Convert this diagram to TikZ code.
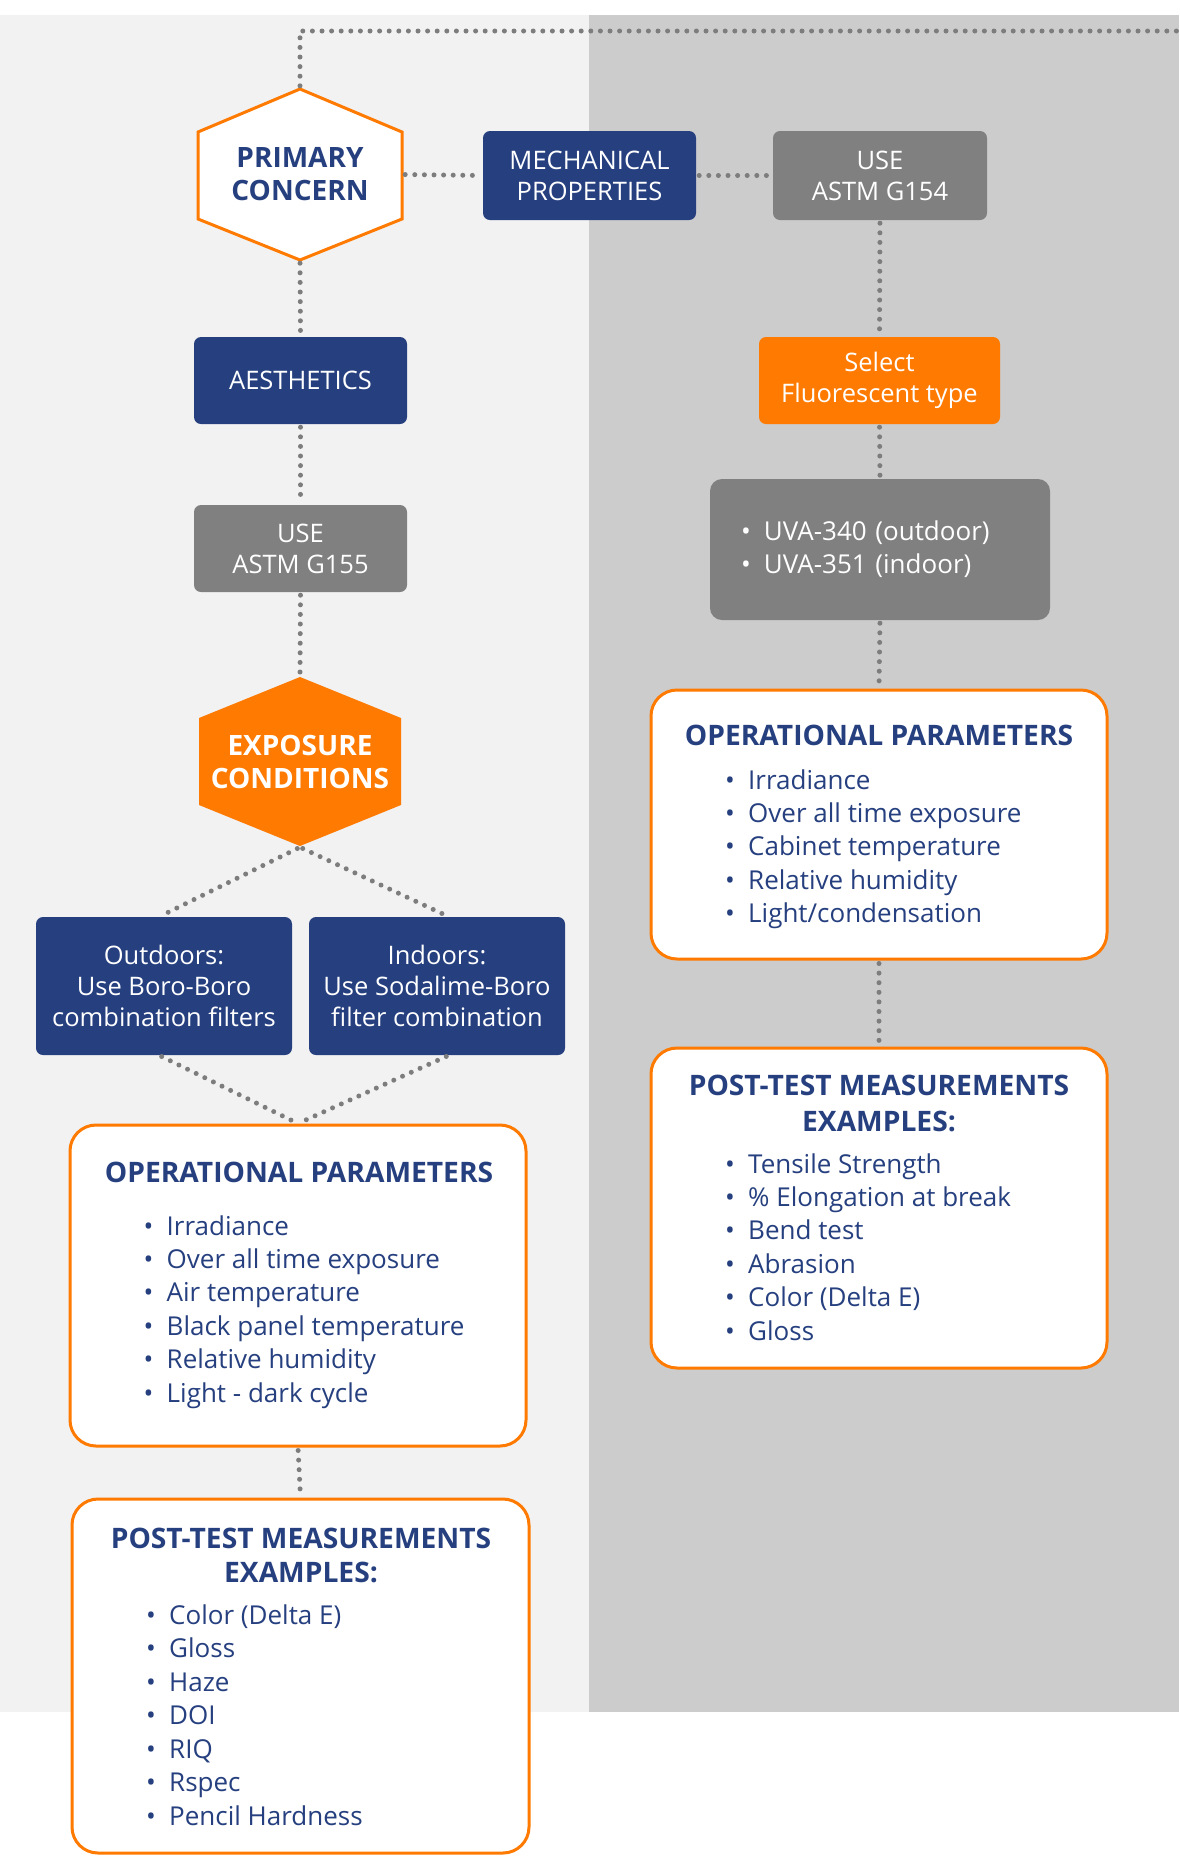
\documentclass[tikz,border=0pt]{standalone}
\usepackage{fontspec}
\setmainfont{Open Sans}
\usetikzlibrary{calc}
\definecolor{navyc}{RGB}{37,63,127}
\definecolor{accent}{RGB}{255,122,0}
\definecolor{boxgray}{RGB}{128,128,128}
\definecolor{lightbg}{RGB}{242,242,242}
\definecolor{darkbg}{RGB}{204,204,204}
\definecolor{dotgray}{RGB}{125,125,125}
\begin{document}
\begin{tikzpicture}[x=1pt,y=-1pt,
  box/.style={rounded corners=7pt, inner sep=0pt, align=center, text=white,
    font=\fontsize{25.5}{31}\selectfont},
  navybox/.style={box, fill=navyc},
  graybox/.style={box, fill=boxgray},
  orangebox/.style={box, fill=accent},
  bigbox/.style={draw=accent, line width=3pt, fill=white, rounded corners=26pt, inner sep=0pt},
  hexnode/.style={inner sep=0pt, minimum width=204pt, minimum height=171pt, align=center,
    font=\bfseries\fontsize{28}{33}\selectfont},
  titletext/.style={text=navyc, font=\bfseries\fontsize{28.2}{33}\selectfont, anchor=base, inner sep=0pt},
  item/.style={text=navyc, font=\fontsize{26}{33.4}\selectfont, anchor=base west, inner sep=0pt},
  dotline/.style={draw=dotgray, line width=5pt, line cap=round, dash pattern=on 0pt off 9.6pt,
    shorten <=3pt, shorten >=3pt}
]
\useasboundingbox (0,0) rectangle (1179,1872);
\fill[white] (0,0) rectangle (1179,1872);
\fill[lightbg] (0,15) rectangle (589,1712);
\fill[darkbg] (589,15) rectangle (1179,1712);

% hexagons
\filldraw[fill=white, draw=accent, line width=3pt]
  (300,89) -- (402,132) -- (402,219) -- (300,260) -- (198,219) -- (198,132) -- cycle;
\node[hexnode, text=navyc] (pc) at (300,174.5) {PRIMARY\\CONCERN};
\fill[accent]
  (300,677) -- (401,718) -- (401,805) -- (300,846) -- (199,805) -- (199,718) -- cycle;
\node[hexnode, text=white] (ec) at (300,761.5) {EXPOSURE\\CONDITIONS};

% small boxes
\node[navybox, minimum width=213pt, minimum height=89pt] (mech) at (589.5,175.5) {MECHANICAL\\PROPERTIES};
\node[graybox, minimum width=214pt, minimum height=89pt] (g154) at (880,175.5) {USE\\ASTM G154};
\node[navybox, minimum width=213pt, minimum height=87pt] (aes) at (300.5,380.5) {AESTHETICS};
\node[orangebox, minimum width=241pt, minimum height=87pt] (sel) at (879.5,380.5) {Select\\Fluorescent type};
\node[graybox, minimum width=213pt, minimum height=87pt] (g155) at (300.5,548.5) {USE\\ASTM G155};
\node[graybox, rounded corners=12pt, minimum height=141pt, inner xsep=31pt, text width=278pt, align=left,
  font=\fontsize{26}{33}\selectfont] (uva) at (880,549.5)
  {\makebox[23pt][l]{\textbullet}UVA-340 (outdoor)\\\makebox[23pt][l]{\textbullet}UVA-351 (indoor)};
\node[navybox, minimum width=256pt, minimum height=138pt] (out) at (164,986) {Outdoors:\\Use Boro-Boro\\combination filters};
\node[navybox, minimum width=256pt, minimum height=138pt] (in) at (437,986) {Indoors:\\Use Sodalime-Boro\\filter combination};

% big boxes
\node[bigbox, minimum width=456pt, minimum height=269pt] (rop) at (879,824.5) {};
\node[bigbox, minimum width=456pt, minimum height=320pt] (rpt) at (879,1208) {};
\node[bigbox, minimum width=456pt, minimum height=321pt] (lop) at (298,1285.5) {};
\node[bigbox, minimum width=457pt, minimum height=354pt] (lpt) at (300.5,1676) {};

% titles
\node[titletext] (ropt) at (879,745) {OPERATIONAL PARAMETERS};
\node[titletext] (rpta) at (879,1095) {POST-TEST MEASUREMENTS};
\node[titletext] (rptb) at (879,1131) {EXAMPLES:};
\node[titletext] (lopt) at (299,1182) {OPERATIONAL PARAMETERS};
\node[titletext] (lpta) at (301,1548) {POST-TEST MEASUREMENTS};
\node[titletext] (lptb) at (301,1582) {EXAMPLES:};

% lists
\foreach [count=\i] \t in {Irradiance, Over all time exposure, Cabinet temperature, Relative humidity, Light/condensation}
  \node[item] (ropi\i) at (725,789+33.4*\i-33.4) {\makebox[23pt][l]{\textbullet}\t};
\foreach [count=\i] \t in {Tensile Strength, \% Elongation at break, Bend test, Abrasion, Color (Delta E), Gloss}
  \node[item] (rpti\i) at (725,1173+33.4*\i-33.4) {\makebox[23pt][l]{\textbullet}\t};
\foreach [count=\i] \t in {Irradiance, Over all time exposure, Air temperature, Black panel temperature, Relative humidity, Light - dark cycle}
  \node[item] (lopi\i) at (143.5,1235+33.4*\i-33.4) {\makebox[23pt][l]{\textbullet}\t};
\foreach [count=\i] \t in {Color (Delta E), Gloss, Haze, DOI, RIQ, Rspec, Pencil Hardness}
  \node[item] (lpti\i) at (146,1624+33.5*\i-33.5) {\makebox[23pt][l]{\textbullet}\t};

% connectors
\coordinate (tl) at (300,31);
\coordinate (tr) at (1179,31);
\draw[dotline, shorten >=0pt] (pc.north) -- (tl) -- (tr);
\draw[dotline] (pc.east) -- (mech.west);
\draw[dotline] (mech.east) -- (g154.west);
\draw[dotline] (pc.south) -- (aes.north);
\draw[dotline] (aes.south) -- (g155.north);
\draw[dotline] (g155.south) -- (ec.north);
\draw[dotline] (ec.south) -- ($(out.north)+(-5,0)$);
\draw[dotline] (ec.south) -- ($(in.north)+(12,0)$);
\draw[dotline] ($(out.south)+(-5,0)$) -- (lop.north);
\draw[dotline] ($(in.south)+(12,0)$) -- (lop.north);
\draw[dotline] (lop.south) -- (lpt.north);
\draw[dotline] (g154.south) -- (sel.north);
\draw[dotline] (sel.south) -- (uva.north);
\draw[dotline] (uva.south) -- (rop.north);
\draw[dotline] (rop.south) -- (rpt.north);
\end{tikzpicture}
\end{document}
